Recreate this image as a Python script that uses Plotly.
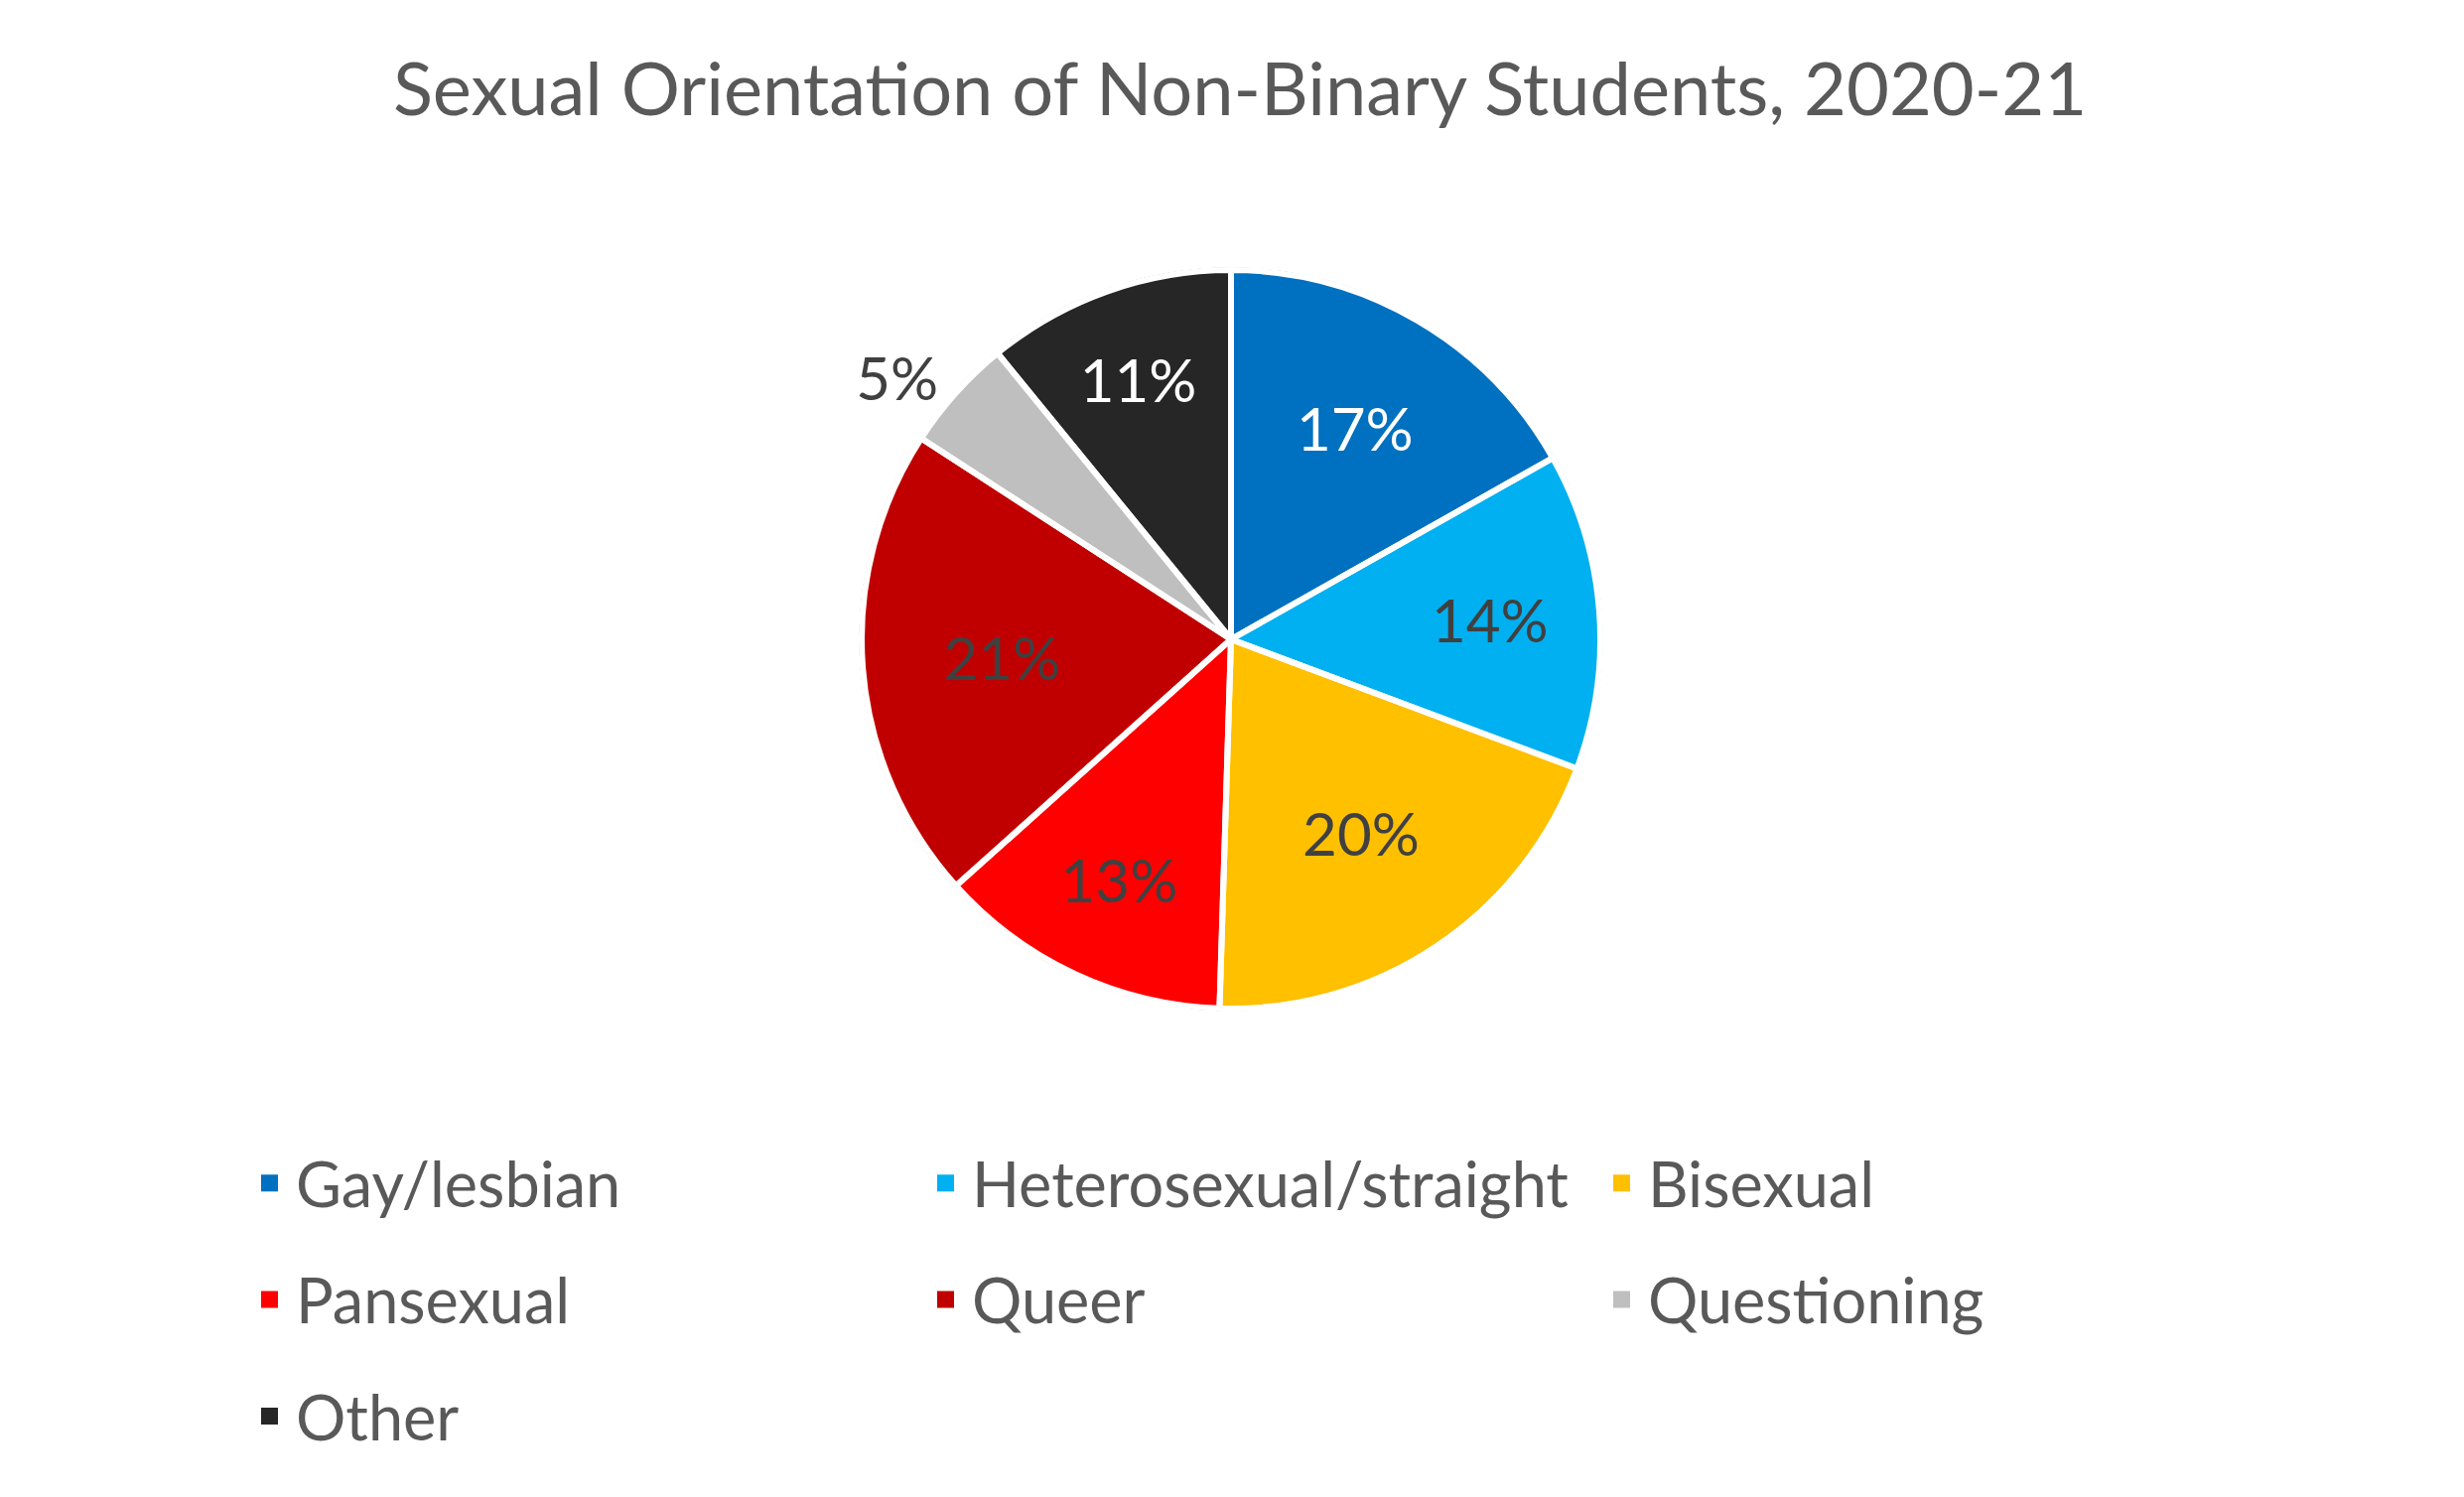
import plotly.graph_objects as go

# Chart data
categories = ["Gay/lesbian", "Heterosexual/straight", "Bisexual", "Pansexual",
              "Queer", "Questioning", "Other"]
shares = [17, 14, 20, 13, 21, 5, 11]

slice_colors = ["#0070C0", "#00B0F0", "#FFC000", "#FF0000", "#C00000", "#BFBFBF", "#262626"]
label_colors = ["white", "#404040", "#404040", "#404040", "#404040", "#404040", "white"]
label_pos = ["inside", "inside", "inside", "inside", "inside", "outside", "inside"]

W, H = 2482, 1508
cx, cy, r = 1232, 636, 372  # pie centre / radius in pixels

FONT = "Lato"
legend_labels = ['<span style="font-size:63px;baseline-shift:10px">%s</span>' % c
                 for c in categories]
pie_domain = dict(
    x=[(cx - r) / W, (cx + r) / W],
    y=[(H - cy - r) / H, (H - cy + r) / H],
)

fig = go.Figure()

# coloured slices (outline in own colour so the legend squares come out bigger)
fig.add_trace(
    go.Pie(
        labels=legend_labels,
        values=shares,
        sort=False,
        direction="clockwise",
        rotation=0,
        marker=dict(colors=slice_colors, line=dict(color=slice_colors, width=5)),
        texttemplate="%{percent:.0%}",
        textposition=label_pos,
        insidetextorientation="horizontal",
        textfont=dict(family=FONT, size=60, color=label_colors),
        hoverinfo="label+percent",
        domain=pie_domain,
    )
)

# white separators drawn on top
fig.add_trace(
    go.Pie(
        labels=legend_labels,
        values=shares,
        sort=False,
        direction="clockwise",
        rotation=0,
        marker=dict(colors=["rgba(0,0,0,0)"] * len(shares), line=dict(color="white", width=6)),
        textinfo="none",
        hoverinfo="skip",
        showlegend=False,
        domain=pie_domain,
    )
)

fig.update_layout(
    width=W,
    height=H,
    margin=dict(l=0, r=0, t=0, b=0),
    paper_bgcolor="white",
    font=dict(family=FONT, color="#595959"),
    title=dict(
        text="Sexual Orientation of Non-Binary Students, 2020-21",
        x=0.5,
        xanchor="center",
        y=1 - 82 / H,
        yanchor="middle",
        font=dict(family=FONT, size=74, color="#595959"),
    ),
    showlegend=True,
    legend=dict(
        orientation="h",
        x=237 / W,
        xanchor="left",
        y=1 - 1120 / H,
        yanchor="top",
        itemwidth=43,
        entrywidth=623,
        entrywidthmode="pixels",
        font=dict(family=FONT, size=88, color="#595959"),
        traceorder="normal",
    ),
)

fig.write_html("out.html")
